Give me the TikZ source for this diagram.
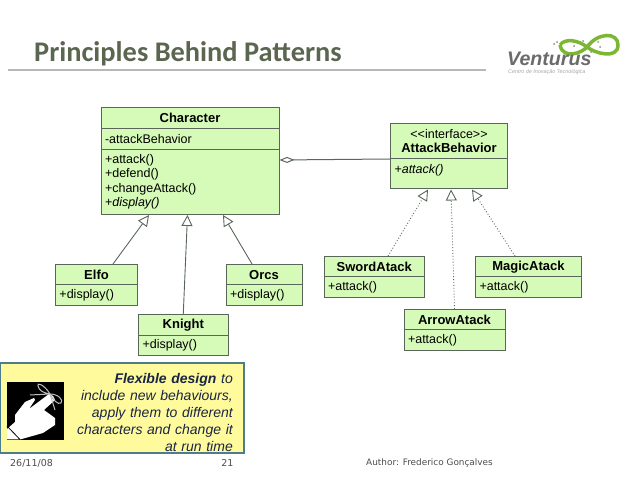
\documentclass[tikz,border=0pt]{standalone}
\usepackage{fontspec}
\setmainfont{Liberation Sans}
\newfontfamily\titlefont{Carlito}
\newfontfamily\footfont{DejaVu Sans}
\usetikzlibrary{arrows.meta}

\definecolor{boxgreen}{HTML}{D6FBB8}
\definecolor{boxline}{HTML}{5A665A}
\definecolor{titlegray}{HTML}{5A6650}
\definecolor{notefill}{HTML}{FFFB9C}
\definecolor{noteline}{HTML}{4F7C8C}
\definecolor{notetext}{HTML}{1F2F55}
\definecolor{logogreen}{HTML}{7CB733}

\tikzset{
  classname/.style={draw=boxline, fill=boxgreen, line width=1pt, inner sep=0pt, align=center,
    font=\fontsize{13}{14.5}\selectfont\bfseries},
  classbody/.style={draw=boxline, fill=boxgreen, line width=1pt, inner xsep=4pt, inner ysep=0pt, align=left,
    font=\fontsize{12.5}{14.5}\selectfont},
  extends/.style={draw=boxline, line width=0.9pt, -{Triangle[open,fill=white,length=11pt,width=11pt]}},
  implements/.style={draw=boxline, line width=0.9pt, dotted,
    -{Triangle[open,fill=white,length=11pt,width=11pt]}},
  footer/.style={font=\footfont\fontsize{9.5}{11}\selectfont, text=black!70, inner sep=0pt}
}

\begin{document}
\begin{tikzpicture}[x=1pt,y=-1pt]
  \useasboundingbox (0,0) rectangle (638,478);

  % header
  \node[anchor=west, inner sep=0pt, text=titlegray, font=\titlefont\fontsize{28.4}{30}\selectfont\bfseries] (title) at (34,54) {Principles Behind Patterns};
  \draw[line width=2pt, black!28] (8,70.5) -- (486,70.5);

  % logo
  \draw[logogreen, line width=3.5pt] (560,45) .. controls (565,38) and (578,40) .. (587,47)
     .. controls (594,53) and (618,60) .. (618,45) .. controls (618,32) and (598,32) .. (587,47)
     .. controls (582,53) and (563,60) .. (560,45);
  \foreach \dotx/\doty in {554/44,557/42,574/46,583/41,598/42,600/47,591/52}
    \fill[black!45] (\dotx,\doty) circle (1pt);
  \node[anchor=west, inner sep=0pt, text=black!58, font=\fontsize{19.6}{22}\selectfont\bfseries\itshape] (logo) at (507,58.5) {Venturus};
  \node[anchor=west, inner sep=0pt, text=black!35, font=\fontsize{5.4}{6}\selectfont\itshape] (logosub) at (508,72) {Centro de Inovação Tecnológica};

  % character
  \node[classname, minimum width=178pt, minimum height=21pt] (chart) at (190,118) {Character};
  \node[classbody, text width=170pt, minimum height=21pt] (chara) at (190,139) {-attackBehavior};
  \node[classbody, text width=170pt, minimum height=65pt] (charm) at (190,182) {+attack()\\+defend()\\+changeAttack()\\+\textit{display()}};

  \node[classname, minimum width=82pt, minimum height=20.5pt] (elfot) at (96.5,274.75) {Elfo};
  \node[classbody, text width=74pt, minimum height=20.5pt] (elfom) at (96.5,295.25) {+display()};
  \node[classname, minimum width=76pt, minimum height=20.5pt] (orcst) at (264,274.75) {Orcs};
  \node[classbody, text width=68pt, minimum height=20.5pt] (orcsm) at (264,295.25) {+display()};
  \node[classname, minimum width=89.5pt, minimum height=20.5pt] (knightt) at (183.25,325.25) {Knight};
  \node[classbody, text width=81.5pt, minimum height=20.5pt] (knightm) at (183.25,345.75) {+display()};

  % interface
  \node[classname, minimum width=117pt, minimum height=35pt, font=\fontsize{12.5}{14.5}\selectfont] (attackt) at (449,141) {{<}{<}interface{>}{>}\\\fontsize{13}{14.5}\selectfont\textbf{AttackBehavior}};
  \node[classbody, text width=109pt, minimum height=30.5pt] (attackm) at (449,173.75) {+\textit{attack()}\\[-5pt]~};

  \node[classname, minimum width=100.5pt, minimum height=20.5pt] (swordt) at (374.25,266.75) {SwordAtack};
  \node[classbody, text width=92.5pt, minimum height=20.5pt] (swordm) at (374.25,287.25) {+attack()};
  \node[classname, minimum width=106pt, minimum height=20.5pt] (magict) at (528.5,266.75) {MagicAtack};
  \node[classbody, text width=98pt, minimum height=20.5pt] (magicm) at (528.5,287.25) {+attack()};
  \node[classname, minimum width=101pt, minimum height=20.5pt] (arrowt) at (454.5,319.75) {ArrowAtack};
  \node[classbody, text width=93pt, minimum height=20.5pt] (arrowm) at (454.5,340.25) {+attack()};

  % connectors
  \draw[extends] ([xshift=16.5pt]elfot.north) -- ([xshift=-41pt]charm.south);
  \draw[extends] (knightt.north) -- ([xshift=-2.5pt]charm.south);
  \draw[extends] ([xshift=-12pt]orcst.north) -- ([xshift=33pt]charm.south);
  \draw[implements] ([xshift=13.75pt]swordt.north) -- ([xshift=-21pt]attackm.south);
  \draw[implements] (arrowt.north) -- ([xshift=2pt]attackm.south);
  \draw[implements] ([xshift=-13.5pt]magict.north) -- ([xshift=23pt]attackm.south);
  \draw[draw=boxline, line width=1pt, {Diamond[open,fill=white,length=15pt,width=6pt]}-] ([yshift=22pt]charm.east) -- (attackt.south west);

  % note
  \node[draw=noteline, fill=notefill, line width=1.5pt, minimum width=244pt, minimum height=90pt, inner sep=0pt] (note) at (122,408) {};
  \node[anchor=east, inner sep=0pt, text width=170pt, align=right, text=notetext!80!black, font=\fontsize{14}{17}\selectfont\itshape] (notetxt) at (233,412) {\textbf{Flexible design} to\\include new behaviours,\\apply them to different\\characters and change it\\at run time};

  % reminder icon
  \fill[black] (7,382) rectangle (64,440);
  \fill[white] (7,429) -- (15,422) -- (15,415) -- (25,402) -- (34,398) -- (35,400) -- (29,409)
    -- (49,394) -- (53,396) -- (55,400) -- (44,410) -- (55,418) -- (55,425) -- (43,433) -- (20,439.5) -- (7,439.5) -- cycle;
  \draw[black, line width=0.8pt] (7,426) -- (20,439.5);
  \draw[black!25, line width=1pt] (50,394) .. controls (44,384) and (36,382) .. (38,386)
    .. controls (39,391) and (44,393) .. (50,394)
    .. controls (58,394) and (64,400) .. (61,403) .. controls (58,405) and (53,400) .. (50,394)
    -- (30,395) (50,394) -- (55,410);

  % footer
  \node[footer, anchor=west] (date) at (10,463) {26/11/08};
  \node[footer, anchor=center] (page) at (227.5,463) {21};
  \node[footer, anchor=west, font=\footfont\fontsize{8.9}{11}\selectfont] (author) at (366,463) {Author: Frederico Gonçalves};
\end{tikzpicture}
\end{document}
